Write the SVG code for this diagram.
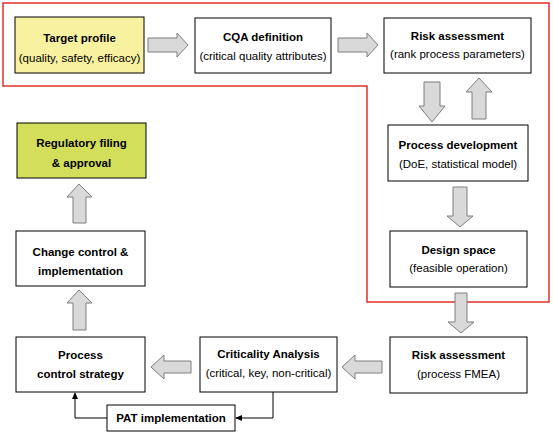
<svg xmlns="http://www.w3.org/2000/svg" width="553" height="434" viewBox="0 0 553 434">
<defs>
<style>
.box{fill:#fff;stroke:#000;stroke-width:1}
.t{font-family:"Liberation Sans",Arial,sans-serif;font-size:11.5px;font-weight:bold;fill:#000;text-anchor:middle}
.s{font-family:"Liberation Sans",Arial,sans-serif;font-size:11.5px;fill:#000;text-anchor:middle}
.ba{fill:#d9d9d9;stroke:#7f7f7f;stroke-width:1}
.ln{fill:none;stroke:#000;stroke-width:1}
</style>
<marker id="ah" viewBox="0 0 8 8" refX="7" refY="4" markerWidth="7" markerHeight="7" markerUnits="userSpaceOnUse" orient="auto">
<path d="M0,0.5 L8,4 L0,7.5 Z" fill="#000"/>
</marker>
</defs>
<rect width="553" height="434" fill="#fff"/>
<polygon points="3,3 549,3 549,302 367,302 367,86 3,86" fill="none" stroke="#e0322a" stroke-width="1.5"/>

<g id="connectors">
<path class="ba" d="M148,38 H177 V33 L188,45 L177,57 V52 H148 Z"/>
<path class="ba" d="M338,38 H367 V33 L378,45 L367,57 V52 H338 Z"/>
<path class="ba" d="M424,82 H440 V106 H445 L432,122 L419,106 H424 Z"/>
<path class="ba" d="M472,119 H486 V92 H492 L479,78 L466,92 H472 Z"/>
<path class="ba" d="M453,187 H467 V216 H473 L460,227 L447,216 H453 Z"/>
<path class="ba" d="M455,293 H467 V322 H474 L461,333 L448,322 H455 Z"/>
<path class="ba" d="M191,361 H164 V355 L151,367 L164,379 V373 H191 Z"/>
<path class="ba" d="M382,361 H355 V355 L342,367 L355,379 V373 H382 Z"/>
<path class="ba" d="M73,223 H86 V197 H92 L79,184 L67,197 H73 Z"/>
<path class="ba" d="M73,330 H86 V303 H92 L79,290 L67,303 H73 Z"/>
<path class="ln" d="M273,392 V418 H236" marker-end="url(#ah)"/>
<path class="ln" d="M107,418 H75 V393" marker-end="url(#ah)"/>
</g>

<g id="target-profile">
<rect class="box" x="15" y="17" width="129" height="56" style="fill:#f8f1a0"/>
<text class="t" x="79.5" y="42">Target profile</text>
<text class="s" x="79.5" y="62">(quality, safety, efficacy)</text>
</g>
<g id="cqa-definition">
<rect class="box" x="195" y="18" width="136" height="55"/>
<text class="t" x="263" y="41">CQA definition</text>
<text class="s" x="263" y="60">(critical quality attributes)</text>
</g>
<g id="risk-assessment-1">
<rect class="box" x="384" y="18" width="147" height="55"/>
<text class="t" x="457.5" y="40">Risk assessment</text>
<text class="s" x="457.5" y="58">(rank process parameters)</text>
</g>
<g id="process-development">
<rect class="box" x="388" y="125" width="140" height="56"/>
<text class="t" x="458" y="149">Process development</text>
<text class="s" x="458" y="168">(DoE, statistical model)</text>
</g>
<g id="design-space">
<rect class="box" x="390" y="231" width="137" height="56"/>
<text class="t" x="458.5" y="254">Design space</text>
<text class="s" x="458.5" y="272">(feasible operation)</text>
</g>
<g id="risk-assessment-2">
<rect class="box" x="390" y="337" width="137" height="56"/>
<text class="t" x="458.5" y="359">Risk assessment</text>
<text class="s" x="458.5" y="378">(process FMEA)</text>
</g>
<g id="criticality-analysis">
<rect class="box" x="200" y="337" width="137" height="55"/>
<text class="t" x="268.5" y="358">Criticality Analysis</text>
<text class="s" x="268.5" y="377">(critical, key, non-critical)</text>
</g>
<g id="process-control-strategy">
<rect class="box" x="16" y="337" width="129" height="55"/>
<text class="t" x="80.5" y="359">Process</text>
<text class="t" x="80.5" y="378">control strategy</text>
</g>
<g id="pat-implementation">
<rect class="box" x="107" y="405" width="128" height="26"/>
<text class="t" x="171" y="422">PAT implementation</text>
</g>
<g id="change-control">
<rect class="box" x="16" y="231" width="129" height="55"/>
<text class="t" x="80.5" y="256">Change control &amp;</text>
<text class="t" x="80.5" y="275">implementation</text>
</g>
<g id="regulatory-filing">
<rect class="box" x="17" y="123" width="129" height="55" style="fill:#d3df5b"/>
<text class="t" x="81.5" y="147">Regulatory filing</text>
<text class="t" x="81.5" y="167">&amp; approval</text>
</g>
</svg>
